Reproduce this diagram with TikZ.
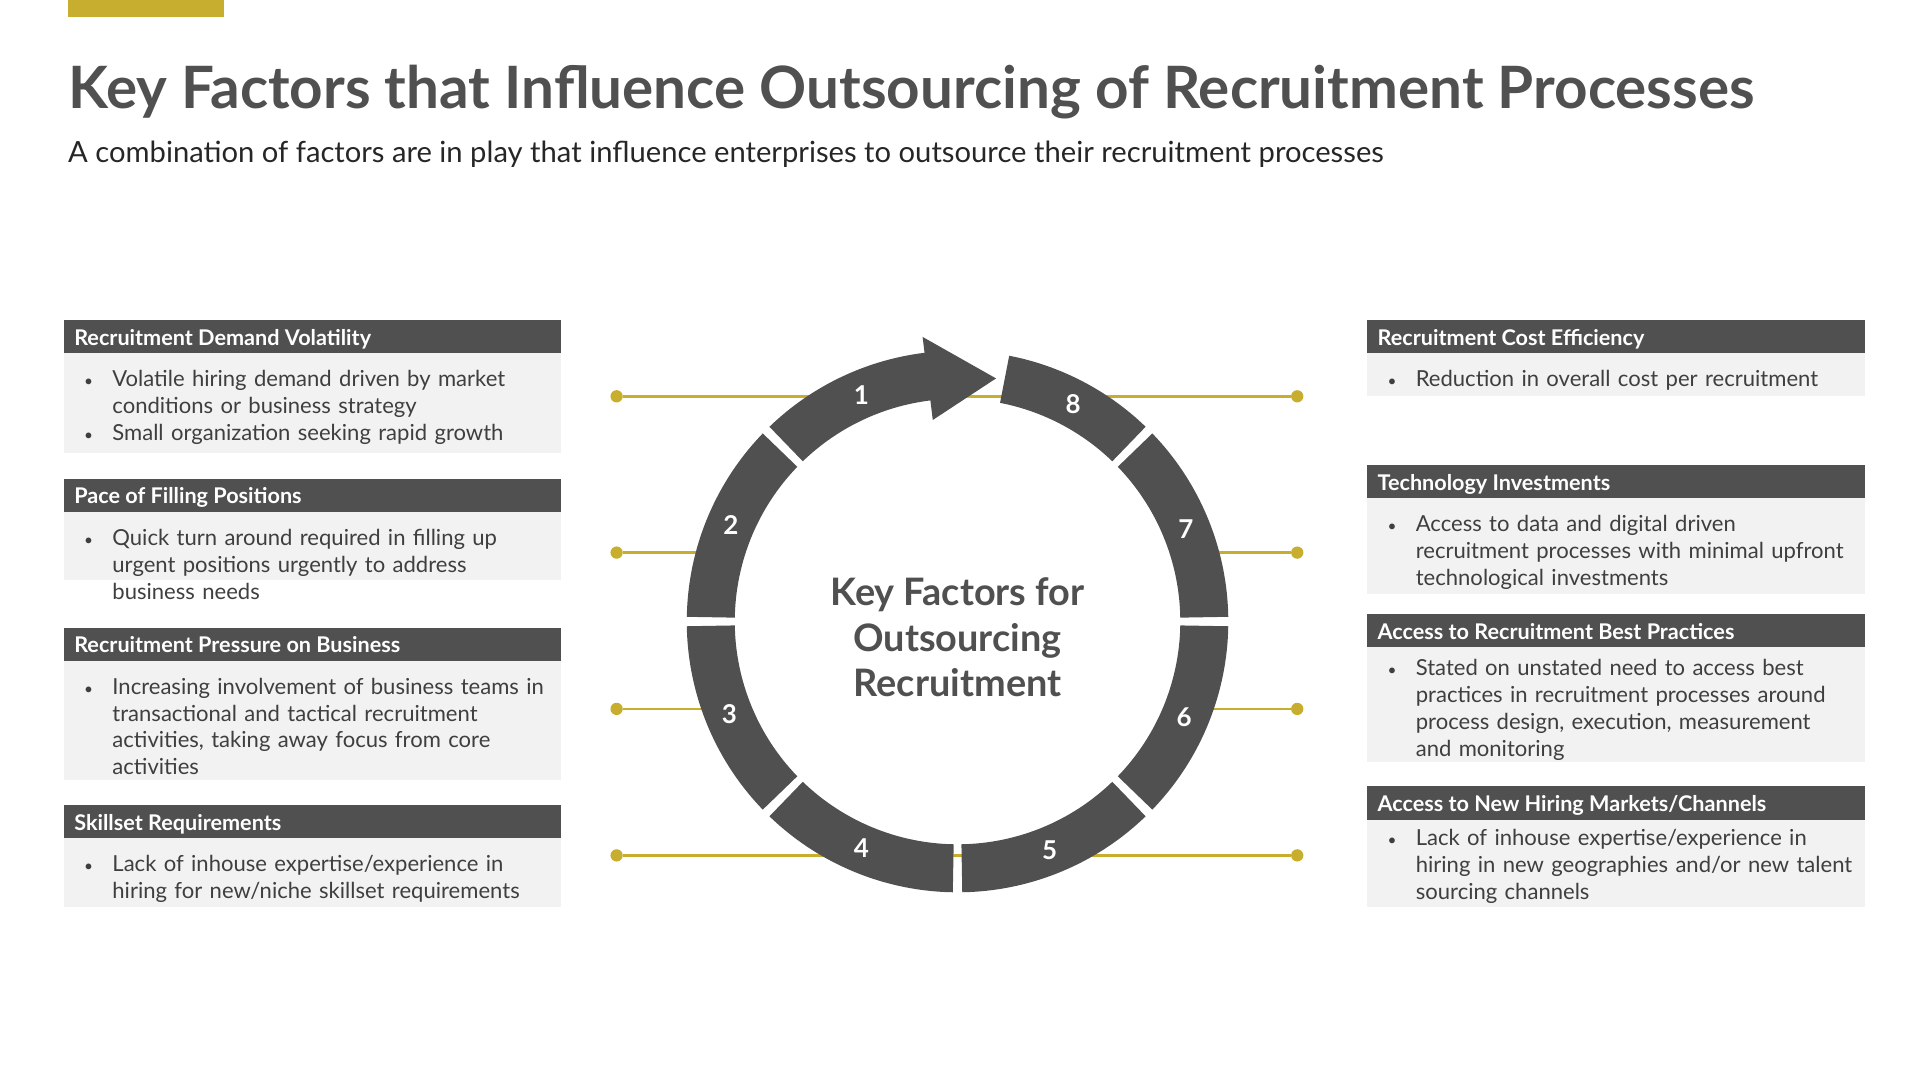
\documentclass[tikz,border=0pt]{standalone}
\usepackage{fontspec}
\setmainfont{Lato}
\definecolor{darkgray}{HTML}{505050}
\definecolor{gold}{HTML}{C8AE2E}
\definecolor{lightbox}{HTML}{F2F2F2}
\definecolor{bodytext}{HTML}{3F3F3F}
\newcommand{\bitem}[1]{\par\noindent\makebox[0.58cm][l]{\hspace{0.12cm}\scalebox{0.7}{\textbullet}}\parbox[t]{7.1cm}{\raggedright\hyphenpenalty=10000 #1}\par}
\tikzset{
  head/.style = {fill = darkgray, text = white, font = \bfseries\fontsize{10}{12}\selectfont, anchor = north west, inner sep = 0pt},
  card/.style = {text = bodytext, anchor = north west, text width = 7.7cm, align = left,
                 font = \fontsize{10.2}{12.4}\selectfont, inner xsep = 0.2cm, inner ysep = 0.12cm},
  seg/.style = {fill = darkgray},
  num/.style = {text = white, font = \bfseries\fontsize{12}{14}\selectfont},
  dot/.style = {circle, fill = gold, inner sep = 0pt, minimum size = 0.2cm}
}
\begin{document}
\begin{tikzpicture}[x = 0.02cm, y = -0.02cm]
\useasboundingbox (0,0) rectangle (1560,878);
\fill[gold] (55,0) rectangle (182,14);
\node[anchor = base west, inner sep = 0pt, text = darkgray, font = \bfseries\fontsize{27}{32}\selectfont] (title) at (55,88) {Key Factors that Influence Outsourcing of Recruitment Processes};
\node[anchor = base west, inner sep = 0pt, text = black!85, font = \fontsize{13.5}{16}\selectfont] (subtitle) at (55,132) {A combination of factors are in play that influence enterprises to outsource their recruitment processes};

% connectors
\foreach \y [count = \i] in {322, 449, 576, 695} {
  \node[dot] (ld\i) at (501,\y) {};
  \node[dot] (rd\i) at (1054,\y) {};
  \coordinate (lc\i) at (778,\y);
  \draw[gold, line width = 1.2pt] (ld\i) -- (lc\i) -- (rd\i);
}
\fill[white] (778,505) circle [radius = 3.64cm];

% ring
\begin{scope}[shift = {(778,505)}, x = 0.02cm, y = 0.02cm]
\foreach \a/\b in {46/79, 1/44, -44/-1, -89/-46, -134/-91, 181/224, 136/179, 96/134}
  \fill[seg] (\a:220) arc[start angle = \a, end angle = \b, radius = 220] -- (\b:181) arc[start angle = \b, end angle = \a, radius = 181] -- cycle;
\fill[seg] (97:165) -- (97:233) -- (81:200) -- cycle;
\foreach \ang [count = \n] in {113, 157, 202, 247, 292, 337, 22, 62}
  \node[num] (n\n) at (\ang:200) {\n};
\node[text = darkgray, align = center, font = \bfseries\fontsize{17.5}{21}\selectfont] (hub) at (0,-13) {Key Factors for\\Outsourcing\\Recruitment};
\end{scope}

% left cards
\fill[lightbox] (52,287) rectangle (456,368);
\fill[lightbox] (52,416) rectangle (456,471);
\fill[lightbox] (52,537) rectangle (456,634);
\fill[lightbox] (52,681) rectangle (456,737);
\fill[darkgray] (52,260) rectangle (456,287);
\fill[darkgray] (52,389) rectangle (456,416);
\fill[darkgray] (52,510) rectangle (456,537);
\fill[darkgray] (52,654) rectangle (456,681);
\node[head] (h1) at (60,267) {Recruitment Demand Volatility};
\node[head] (h2) at (60,396) {Pace of Filling Positions};
\node[head] (h3) at (60,517) {Recruitment Pressure on Business};
\node[head] (h4) at (60,661) {Skillset Requirements};
\node[card] (b1) at (52,286) {\bitem{Volatile hiring demand driven by market conditions or business strategy}\vspace{2pt}\bitem{Small organization seeking rapid growth}};
\node[card] (b2) at (52,415) {\bitem{Quick turn around required in filling up urgent positions urgently to address business needs}};
\node[card] (b3) at (52,536) {\bitem{Increasing involvement of business teams in transactional and tactical recruitment activities, taking away focus from core activities}};
\node[card] (b4) at (52,680) {\bitem{Lack of inhouse expertise/experience in hiring for new/niche skillset requirements}};

% right cards
\fill[lightbox] (1111,287) rectangle (1515,322);
\fill[lightbox] (1111,405) rectangle (1515,483);
\fill[lightbox] (1111,526) rectangle (1515,619);
\fill[lightbox] (1111,666) rectangle (1515,737);
\fill[darkgray] (1111,260) rectangle (1515,287);
\fill[darkgray] (1111,378) rectangle (1515,405);
\fill[darkgray] (1111,499) rectangle (1515,526);
\fill[darkgray] (1111,639) rectangle (1515,666);
\node[head] (h5) at (1119,267) {Recruitment Cost Efficiency};
\node[head] (h6) at (1119,385) {Technology Investments};
\node[head] (h7) at (1119,506) {Access to Recruitment Best Practices};
\node[head] (h8) at (1119,646) {Access to New Hiring Markets/Channels};
\node[card] (b5) at (1111,286) {\bitem{Reduction in overall cost per recruitment}};
\node[card] (b6) at (1111,404) {\bitem{Access to data and digital driven recruitment processes with minimal upfront technological investments}};
\node[card] (b7) at (1111,521) {\bitem{Stated on unstated need to access best practices in recruitment processes around process design, execution, measurement and monitoring}};
\node[card] (b8) at (1111,659) {\bitem{Lack of inhouse expertise/experience in hiring in new geographies and/or new talent sourcing channels}};
\end{tikzpicture}
\end{document}
